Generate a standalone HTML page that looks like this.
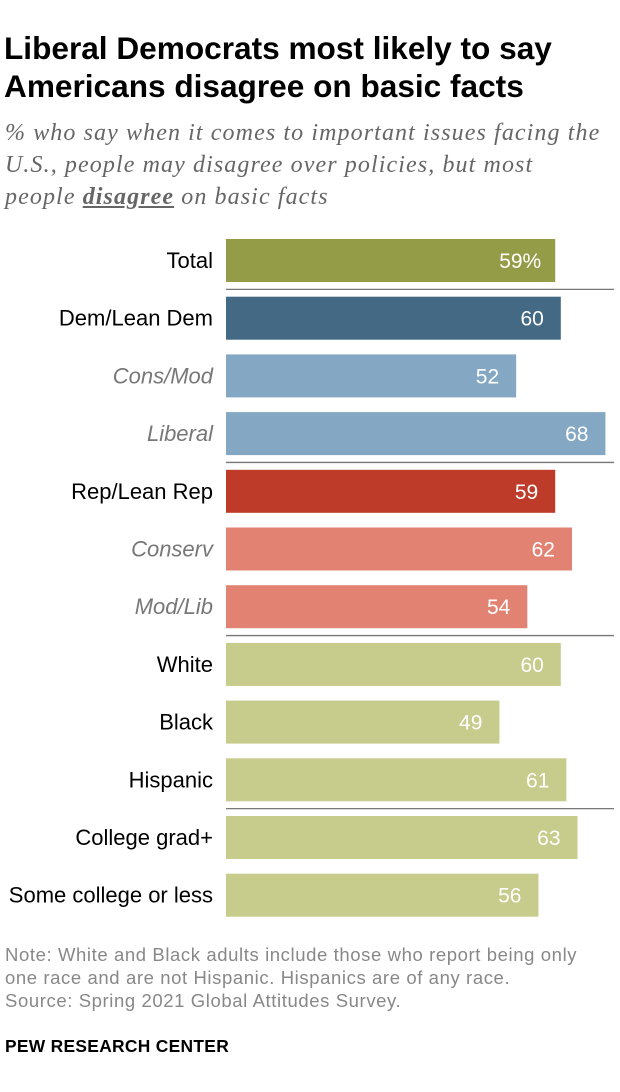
<!DOCTYPE html>
<html><head><meta charset="utf-8">
<style>
body{margin:0;width:620px;height:1092px;background:#fff;font-family:"Liberation Sans",sans-serif;position:relative;overflow:hidden}
.t{position:absolute;left:4px;font-weight:bold;font-size:31.6px;color:#000;line-height:38px;white-space:nowrap}
.sub{position:absolute;left:5px;top:117px;font-family:"Liberation Serif",serif;font-style:italic;font-size:24px;letter-spacing:1.1px;color:#666;line-height:32px;white-space:nowrap}
.note{position:absolute;left:5px;top:943px;font-size:18.5px;letter-spacing:0.6px;color:#888;line-height:23px;white-space:nowrap}
.pew{position:absolute;left:5px;top:1036px;font-size:17.4px;letter-spacing:0.3px;font-weight:bold;color:#000}
</style></head><body>
<div class="t" style="top:29px">Liberal Democrats most likely to say<br>Americans disagree on basic facts</div>
<div class="sub">% who say when it comes to important issues facing the<br>U.S., people may disagree over policies, but most<br>people <b style="text-decoration:underline">disagree</b> on basic facts</div>
<svg id="chart" width="620" height="1092" style="position:absolute;left:0;top:0"></svg>
<div class="note">Note: White and Black adults include those who report being only<br>one race and are not Hispanic. Hispanics are of any race.<br>Source: Spring 2021 Global Attitudes Survey.</div>
<div class="pew">PEW RESEARCH CENTER</div>
<script>
const categories=["Total","Dem/Lean Dem","Cons/Mod","Liberal","Rep/Lean Rep","Conserv","Mod/Lib","White","Black","Hispanic","College grad+","Some college or less"];
const values=[59,60,52,68,59,62,54,60,49,61,63,56];
const valueLabels=["59%","60","52","68","59","62","54","60","49","61","63","56"];
const colors=["#959c48","#436985","#84a8c3","#84a8c3","#be3a29","#e28273","#e28273","#c7cb8c","#c7cb8c","#c7cb8c","#c7cb8c","#c7cb8c"];
const subgroup=[0,0,1,1,0,1,1,0,0,0,0,0];
const separatorsAfter=[0,3,6,9];
const NS="http://www.w3.org/2000/svg";
const svg=document.getElementById("chart");
const x0=226,scale=5.58,y0=239,step=57.7,bh=43;
const xs=v=>x0+v*scale, ys=i=>y0+i*step;
function mk(t,a){const e=document.createElementNS(NS,t);for(const k in a)e.setAttribute(k,a[k]);svg.appendChild(e);return e;}
categories.forEach((c,i)=>{
 const r=mk("rect",{x:x0,y:ys(i),width:xs(values[i])-x0,height:bh,fill:colors[i]});
 
 
 const l=mk("text",{x:213,y:ys(i)+bh/2+7.5,"text-anchor":"end","font-size":"22","fill":subgroup[i]?"#777":"#000","font-style":subgroup[i]?"italic":"normal","font-family":"Liberation Sans, sans-serif"});
 l.textContent=c;
 
 
 const v=mk("text",{x:xs(values[i])-(i==0?14:17),y:ys(i)+bh/2+7.5,"text-anchor":"end","font-size":"21","fill":"#fff","font-family":"Liberation Sans, sans-serif"});
 v.textContent=valueLabels[i];
 
 
});
separatorsAfter.forEach(i=>{
 const y=ys(i)+bh+(step-bh)/2;
 const s=mk("line",{x1:226,x2:614,y1:y,y2:y,stroke:"#777","stroke-width":1.3});
 
 
});
</script>
</body></html>
